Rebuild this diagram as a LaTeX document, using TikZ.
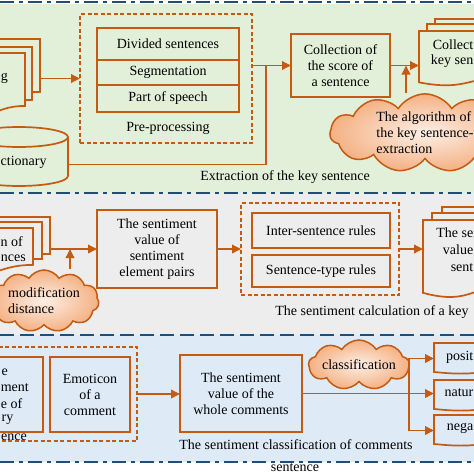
\documentclass[tikz,border=0pt]{standalone}
\usepackage{fontspec}
\setmainfont{Liberation Serif}
\usetikzlibrary{arrows.meta,shapes.symbols,positioning,calc}

\definecolor{boxorange}{HTML}{C55A11}
\definecolor{panelgreen}{HTML}{E2EFD9}
\definecolor{panelgray}{HTML}{EDEDED}
\definecolor{panelblue}{HTML}{DEEBF7}
\definecolor{sepblue}{HTML}{1F4E79}
\definecolor{cloudin}{HTML}{FDEFE6}
\definecolor{cloudout}{HTML}{F4B183}

\tikzset{
  txt/.style={font=\fontsize{14}{16}\selectfont, inner sep=0pt, align=center},
  box/.style={draw=boxorange, line width=1.7pt, txt, outer sep=0pt},
  dashbox/.style={draw=boxorange, line width=1.3pt, dash pattern=on 4pt off 2.5pt, outer sep=0pt},
  page/.style={outer sep=0pt, inner sep=0pt},
  idea/.style={cloud, cloud puffs=11, cloud puff arc=115, cloud ignores aspect,
    draw=boxorange, line width=1.5pt, inner color=cloudin, outer color=cloudout, txt, align=left},
  link/.style={draw=boxorange, line width=1.8pt},
  arr/.style={link, -{Triangle[length=9pt,width=8.5pt]}},
  dashdot/.style={draw=sepblue, line width=2.8pt, dash pattern=on 14pt off 5pt on 4pt off 5pt},
  dashsep/.style={draw=sepblue, line width=2.8pt, dash pattern=on 14pt off 6pt},
}

% back sheet of a stack of pages
\newcommand{\pageback}[2]{\draw[boxorange, line width=1.7pt, fill=#2] (#1.north west) rectangle ($(#1.north east)!0.802!(#1.south east)$);}
% front sheet with the wavy lower edge
\newcommand{\pagefront}[2]{\draw[boxorange, line width=1.7pt, fill=#2] (#1.north west) -- (#1.north east)
  -- ($(#1.north east)!0.802!(#1.south east)$)
  .. controls ($(#1.north)!0.802!(#1.south)$) and ($(#1.north)!1.107!(#1.south)$) .. ($(#1.north west)!0.934!(#1.south west)$) -- cycle;}

\begin{document}
\begin{tikzpicture}[x=1pt,y=-1pt]
  \useasboundingbox (0,0) rectangle (474,474);
  \clip (0,0) rectangle (474,474);

  % panels
  \fill[panelgreen] (0,4) rectangle (474,193);
  \fill[panelgray] (0,193) rectangle (474,335);
  \fill[panelblue] (0,335) rectangle (474,462);

  % extraction of the key sentence
  \node[page, minimum width=70pt, minimum height=66pt] (docA) at (-10,86) {};
  \node[page, minimum width=70pt, minimum height=66pt] (docA2) at ($(docA)+(7,-6)$) {};
  \node[page, minimum width=70pt, minimum height=66pt] (docA3) at ($(docA)+(15,-14)$) {};
  \pageback{docA3}{panelgreen}
  \pageback{docA2}{panelgreen}
  \pagefront{docA}{panelgreen}
  \node[txt, anchor=east] (docA-t) at (8,78) {g};

  \node[page, minimum width=98pt, minimum height=59pt] (dict) at (19,156.5) {};
  \draw[boxorange, line width=1.7pt, fill=panelgreen] ([yshift=-10pt]dict.north west) -- ([yshift=10pt]dict.south west)
    arc[start angle=180, end angle=360, x radius=49pt, y radius=10pt] -- ([yshift=-10pt]dict.north east)
    arc[start angle=0, end angle=180, x radius=49pt, y radius=10pt] -- cycle;
  \draw[boxorange, line width=1.7pt] ([yshift=-10pt]dict.north west)
    arc[start angle=180, end angle=360, x radius=49pt, y radius=10pt];
  \node[txt, anchor=west] (dict-t) at (0.5,162) {ctionary};

  \node[dashbox, minimum width=172pt, minimum height=129pt] (pre) at (166,78.5) {};
  \node[box, minimum width=142pt, minimum height=32pt] (div) at (168,44) {Divided sentences};
  \node[box, minimum width=142pt, minimum height=25pt, below=0pt of div] (seg) {Segmentation};
  \node[box, minimum width=142pt, minimum height=27pt, below=0pt of seg] (speech) {Part of speech};
  \node[txt] (pre-t) at (168,128) {Pre-processing};

  \node[box, minimum width=99pt, minimum height=63pt] (coll) at (340.5,65.5) {Collection of\\the score of\\a sentence};

  \node[page, minimum width=100pt, minimum height=55pt] (docB) at (469,58.5) {};
  \node[page, minimum width=100pt, minimum height=55pt] (docB2) at ($(docB)+(8,-7)$) {};
  \node[page, minimum width=100pt, minimum height=55pt] (docB3) at ($(docB)+(16,-12)$) {};
  \pageback{docB3}{panelgreen}
  \pageback{docB2}{panelgreen}
  \pagefront{docB}{panelgreen}
  \node[txt, anchor=east] (docB-t1) at (473.5,45) {Collect};
  \node[txt, anchor=east] (docB-t2) at (473.5,61) {key sen};

  \node[idea, minimum width=190pt, minimum height=68pt] (algo) at (425,133) {The algorithm of\\the key sentence-\\extraction};
  \node[txt] (cap1) at (285,177) {Extraction of the key sentence};

  \coordinate (j1) at ($(pre.east |- coll.west)+(14,0)$);
  \coordinate (j2) at ($(coll.east -| docB.west)+(-13,0)$);
  \draw[arr] (docA3.east |- pre.west) -- (pre.west);
  \draw[arr] (pre.east |- coll.west) -- (coll.west);
  \draw[link] ([yshift=-8pt]dict.east) -| (j1);
  \draw[arr] (coll.east) -- (coll.east -| docB.west);
  \draw[arr] (j2 |- algo.north) -- (j2);

  % sentiment calculation of a key sentence
  \node[page, minimum width=70pt, minimum height=46pt] (docC) at (-2,251) {};
  \node[page, minimum width=70pt, minimum height=46pt] (docC2) at ($(docC)+(9,-6)$) {};
  \node[page, minimum width=70pt, minimum height=46pt] (docC3) at ($(docC)+(17,-11)$) {};
  \pageback{docC3}{panelgray}
  \pageback{docC2}{panelgray}
  \pagefront{docC}{panelgray}
  \node[txt, anchor=east] (docC-t1) at (23,242) {n of};
  \node[txt, anchor=east] (docC-t2) at (26,258) {nces};

  \node[box, minimum width=120pt, minimum height=78pt] (pairs) at (157,249) {The sentiment\\value of\\sentiment\\element pairs};
  \node[idea, minimum width=110pt, minimum height=62pt] (modif) at (44,301) {modification\\distance};

  \node[dashbox, minimum width=158pt, minimum height=92pt] (rules) at (320,249) {};
  \node[box, minimum width=138pt, minimum height=35pt] (inter) at (321,230.5) {Inter-sentence rules};
  \node[box, minimum width=138pt, minimum height=32pt] (stype) at (321,271) {Sentence-type rules};

  \node[page, minimum width=100pt, minimum height=78pt] (docD) at (473,259) {};
  \node[page, minimum width=100pt, minimum height=78pt] (docD2) at ($(docD)+(9,-7)$) {};
  \node[page, minimum width=100pt, minimum height=78pt] (docD3) at ($(docD)+(19,-13)$) {};
  \pageback{docD3}{panelgray}
  \pageback{docD2}{panelgray}
  \pagefront{docD}{panelgray}
  \node[txt, anchor=east] (docD-t1) at (473.5,233) {The se};
  \node[txt, anchor=east] (docD-t2) at (473.5,250) {value};
  \node[txt, anchor=east] (docD-t3) at (473.5,268) {sent};

  \node[txt] (cap2) at (372,312) {The sentiment calculation of a key};

  \coordinate (j3) at ($(docC3.east |- pairs.west)+(20,0)$);
  \draw[arr] (docC3.east |- pairs.west) -- (pairs.west);
  \draw[arr] (j3 |- modif.north) -- (j3);
  \draw[arr] (pairs.east) -- (rules.west);
  \draw[arr] (rules.east) -- (rules.east -| docD.west);

  % sentiment classification of comments
  \node[dashbox, minimum width=142pt, minimum height=94pt] (group) at (66,394) {};
  \node[box, minimum width=83pt, minimum height=75pt] (every) at (1.5,394.5) {};
  \node[txt, anchor=east] (every-t1) at (8,372) {e};
  \node[txt, anchor=east] (every-t2) at (29,388) {ment};
  \node[txt, anchor=east] (every-t3) at (22.5,404) {e of};
  \node[txt, anchor=east] (every-t4) at (13.5,420) {ry};
  \node[txt, anchor=east] (every-t5) at (27,437) {ence};
  \node[box, minimum width=80pt, minimum height=75pt] (emot) at (90,394.5) {Emoticon\\of a\\comment};

  \node[box, minimum width=122pt, minimum height=77pt] (whole) at (241,393.5) {The sentiment\\value of the\\whole comments};
  \node[txt] (cap3) at (296,445) {The sentiment classification of comments};
  \node[idea, minimum width=90pt, minimum height=50pt, cloud puffs=9] (clas) at (359,365) {classification};

  \node[page, minimum width=100pt, minimum height=31pt] (pos) at (484,358.5) {};
  \node[page, minimum width=100pt, minimum height=31pt] (nat) at (484,395.5) {};
  \node[page, minimum width=100pt, minimum height=31pt] (neg) at (484,430.5) {};
  \pagefront{pos}{panelblue}
  \pagefront{nat}{panelblue}
  \pagefront{neg}{panelblue}
  \node[txt, anchor=east] (pos-t) at (473.5,357) {posit};
  \node[txt, anchor=east] (nat-t) at (473.5,393) {natur};
  \node[txt, anchor=east] (neg-t) at (473.5,428) {nega};

  \coordinate (j4) at ($(whole.east)+(107,0)$);
  \draw[arr] (group.east) -- (group.east -| whole.west);
  \draw[arr] (whole.east) -- (whole.east -| nat.west);
  \draw[arr] (j4) |- (pos.west);
  \draw[arr] (j4) |- (neg.west);

  \node[txt] (cap2b) at (295,468) {sentence};

  % separators
  \draw[dashdot] (0,2) -- (474,2);
  \draw[dashdot] (0,193) -- (474,193);
  \draw[dashsep] (0,335) -- (474,335);
  \draw[dashdot] (0,462) -- (474,462);
\end{tikzpicture}
\end{document}
